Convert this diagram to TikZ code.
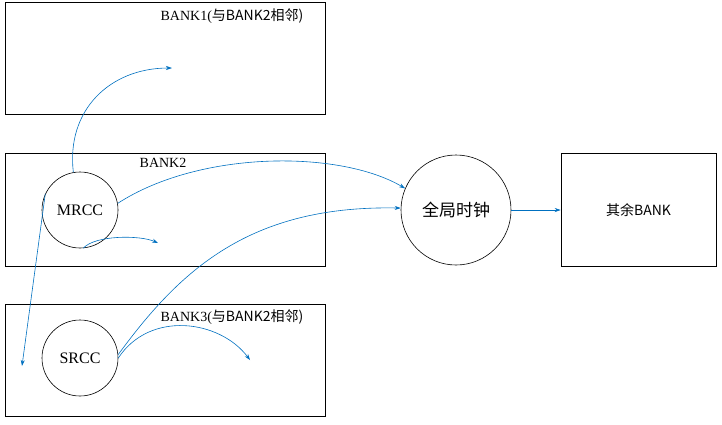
\documentclass[tikz,border=0pt]{standalone}
\usepackage{fontspec}
\setmainfont{Liberation Serif}
\newfontfamily\cjk{Noto Sans CJK SC}
\usetikzlibrary{arrows.meta}
\definecolor{ab}{RGB}{0,112,192}
\begin{document}
\begin{tikzpicture}[x=1pt,y=-1pt,
  box/.style={draw,line width=0.6pt},
  circ/.style={draw,circle,line width=0.6pt,inner sep=0pt},
  arr/.style={draw=ab,line width=0.6pt,-{Stealth[length=6pt,width=4pt]}},
  lbl/.style={font=\fontsize{14}{16}\selectfont}]
\useasboundingbox (0,0) rectangle (722,424);
\node[box,minimum width=320pt,minimum height=112pt] (b1) at (165,58) {};
\node[box,minimum width=320pt,minimum height=113pt] (b2) at (165,209.5) {};
\node[box,minimum width=320pt,minimum height=112pt] (b3) at (165,360) {};
\node[box,minimum width=155pt,minimum height=113pt] (ro) at (638.5,210) {\cjk\fontsize{14}{16}\selectfont 其余BANK};
\node[lbl] (t1) at (232,16) {BANK1(\cjk{与}BANK2\cjk{相邻})};
\node[lbl] (t2) at (163,163) {BANK2};
\node[lbl] (t3) at (232,317) {BANK3(\cjk{与}BANK2\cjk{相邻})};
\node[circ,minimum size=76pt,font=\fontsize{16}{18}\selectfont] (m) at (80,210) {MRCC};
\node[circ,minimum size=76pt,font=\fontsize{16}{18}\selectfont] (s) at (80,358) {SRCC};
\node[circ,minimum size=110pt] (g) at (456,210) {\cjk\fontsize{17}{19}\selectfont 全局时钟};
\coordinate (e1) at (172,68);
\coordinate (e2) at (158,243);
\coordinate (e3) at (22,366);
\coordinate (e4) at (250,360);
\draw[arr] (m.100) .. controls (66,110) and (110,68) .. (e1);
\draw[arr] (m.10) .. controls (200,150) and (340,150) .. (g.157);
\draw[arr] (m.-85) .. controls (95,235) and (140,235) .. (e2);
\draw[arr] (m.155) -- (e3);
\draw[arr] (s.5) .. controls (180,270) and (250,205) .. (g.178);
\draw[arr] (s.0) .. controls (150,310) and (220,320) .. (e4);
\draw[arr] (g.east) -- (ro.west);
\end{tikzpicture}
\end{document}
